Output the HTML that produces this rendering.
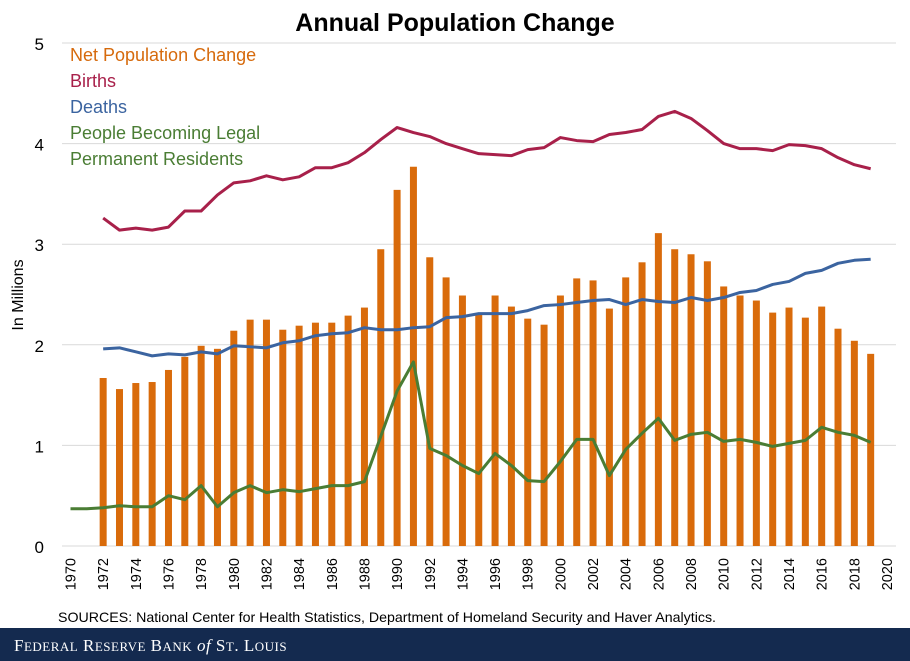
<!DOCTYPE html>
<html><head><meta charset="utf-8"><style>
body{margin:0;width:910px;height:661px;background:#fff;overflow:hidden;font-family:"Liberation Sans",sans-serif}
</style></head><body>
<svg width="910" height="661" id="c" style="position:absolute;left:0;top:0">
<text x="455" y="31" text-anchor="middle" font-size="25" font-weight="bold" fill="#000">Annual Population Change</text>
<g id="grid"></g><g id="bars"></g><g id="lines"></g><g id="ax"></g>
<text transform="translate(23,295) rotate(-90)" text-anchor="middle" font-size="16">In Millions</text>
<g font-size="18">
<text x="70" y="61" fill="#d66a0c">Net Population Change</text>
<text x="70" y="87" fill="#a8204a">Births</text>
<text x="70" y="113" fill="#3b64a0">Deaths</text>
<text x="70" y="139" fill="#4a7d34">People Becoming Legal</text>
<text x="70" y="165" fill="#4a7d34">Permanent Residents</text>
</g>
<text x="58" y="622" font-size="14" textLength="658" lengthAdjust="spacingAndGlyphs">SOURCES: National Center for Health Statistics, Department of Homeland Security and Haver Analytics.</text>
<rect x="0" y="628" width="910" height="33" fill="#142a4f"/>
<text x="14" y="651" font-family="Liberation Serif,serif" font-size="17" fill="#fff" letter-spacing="0.5">F<tspan font-size="13">EDERAL</tspan> R<tspan font-size="13">ESERVE</tspan> B<tspan font-size="13">ANK</tspan> <tspan font-style="italic">of</tspan> S<tspan font-size="13">T</tspan>. L<tspan font-size="13">OUIS</tspan></text>
</svg>
<script>
const netYears=[1972,1973,1974,1975,1976,1977,1978,1979,1980,1981,1982,1983,1984,1985,1986,1987,1988,1989,1990,1991,1992,1993,1994,1995,1996,1997,1998,1999,2000,2001,2002,2003,2004,2005,2006,2007,2008,2009,2010,2011,2012,2013,2014,2015,2016,2017,2018,2019];
const netChange=[1.67,1.56,1.62,1.63,1.75,1.88,1.99,1.96,2.14,2.25,2.25,2.15,2.19,2.22,2.22,2.29,2.37,2.95,3.54,3.77,2.87,2.67,2.49,2.30,2.49,2.38,2.26,2.20,2.49,2.66,2.64,2.36,2.67,2.82,3.11,2.95,2.90,2.83,2.58,2.49,2.44,2.32,2.37,2.27,2.38,2.16,2.04,1.91];
const births=[3.26,3.14,3.16,3.14,3.17,3.33,3.33,3.49,3.61,3.63,3.68,3.64,3.67,3.76,3.76,3.81,3.91,4.04,4.16,4.11,4.07,4.00,3.95,3.90,3.89,3.88,3.94,3.96,4.06,4.03,4.02,4.09,4.11,4.14,4.27,4.32,4.25,4.13,4.00,3.95,3.95,3.93,3.99,3.98,3.95,3.86,3.79,3.75];
const deaths=[1.96,1.97,1.93,1.89,1.91,1.90,1.93,1.91,1.99,1.98,1.97,2.02,2.04,2.09,2.11,2.12,2.17,2.15,2.15,2.17,2.18,2.27,2.28,2.31,2.31,2.31,2.34,2.39,2.40,2.42,2.44,2.45,2.40,2.45,2.43,2.42,2.47,2.44,2.47,2.52,2.54,2.60,2.63,2.71,2.74,2.81,2.84,2.85];
const lprYears=[1970,1971].concat(netYears);
const lpr=[0.37,0.37,0.38,0.40,0.39,0.39,0.50,0.46,0.60,0.39,0.53,0.60,0.53,0.56,0.54,0.57,0.60,0.60,0.64,1.09,1.54,1.83,0.97,0.90,0.80,0.72,0.92,0.80,0.65,0.64,0.84,1.06,1.06,0.70,0.96,1.12,1.27,1.05,1.11,1.13,1.04,1.06,1.03,0.99,1.02,1.05,1.18,1.13,1.10,1.03];
const yTicks=[0,1,2,3,4,5];
const xTicks=[1970,1972,1974,1976,1978,1980,1982,1984,1986,1988,1990,1992,1994,1996,1998,2000,2002,2004,2006,2008,2010,2012,2014,2016,2018,2020];
const NS='http://www.w3.org/2000/svg';
const X=y=>70.5+(y-1970)*16.33, Y=v=>546-v*100.6;
function mk(t,a,p){const e=document.createElementNS(NS,t);for(const k in a)e.setAttribute(k,a[k]);document.getElementById(p).appendChild(e);return e;}
yTicks.forEach(v=>{
 const l=mk('line',{x1:62,x2:896,y1:Y(v),y2:Y(v),stroke:'#d9d9d9','stroke-width':1},'grid');
 
 
 const t=mk('text',{x:44,y:Y(v)+7,'text-anchor':'end','font-size':17},'ax');t.textContent=v;
 
 
});
xTicks.forEach(yr=>{
 const t=mk('text',{transform:`translate(${X(yr)+5},558) rotate(-90)`,'text-anchor':'end','font-size':14.5},'ax');t.textContent=yr;
 
 
});
netYears.forEach((yr,i)=>{
 const r=mk('rect',{x:X(yr)-3.5,y:Y(netChange[i]),width:7,height:Y(0)-Y(netChange[i]),fill:'#d96b0b'},'bars');
 
 
});
function line(xs,vs,c,n){
 const p=mk('polyline',{points:vs.map((v,i)=>X(xs[i])+','+Y(v)).join(' '),fill:'none',stroke:c,'stroke-width':3,'stroke-linejoin':'round'},'lines');
 
 
}
line(netYears,births,'#a8204a','births-line');
line(netYears,deaths,'#3b64a0','deaths-line');
line(lprYears,lpr,'#4a7d34','lpr-line');
</script>
</body></html>
